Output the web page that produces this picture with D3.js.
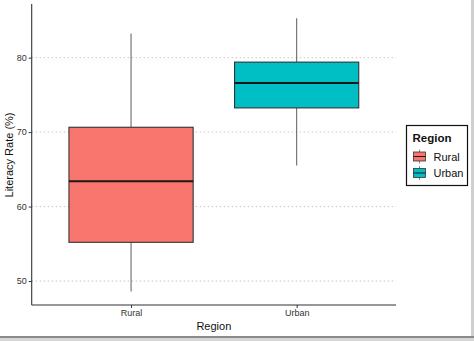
<!DOCTYPE html>
<html>
<head>
<meta charset="utf-8">
<script src="https://cdn.jsdelivr.net/npm/d3@7"></script>
<style>
  html, body { margin: 0; padding: 0; background: #fff; }
  svg { display: block; font-family: "Liberation Sans", Arial, sans-serif; }
</style>
</head>
<body>
<svg id="chart" width="474" height="341"></svg>
<script>
// Literacy rate summary by region (five-number summary per box)
const regions = ["Rural", "Urban"];
const whiskerLow  = [48.6, 65.5];
const q1          = [55.2, 73.25];
const medians     = [63.4, 76.6];
const q3          = [70.65, 79.4];
const whiskerHigh = [83.25, 85.3];
const fills = ["#F8766D", "#00BFC4"];
const yTicks = [50, 60, 70, 80];

const svg = d3.select("#chart");
const W = 474, H = 341;
const plotL = 31.7, plotR = 396, plotT = 5, plotB = 305;

// Discrete x scale with ggplot-style 0.6 expansion on both sides
const x = d3.scaleLinear().domain([0.4, 2.6]).range([plotL, plotR]);
const y = d3.scaleLinear().domain([46.78, 87.07]).range([plotB, plotT]);
const boxW = x(1.75) - x(1);   // box width of 0.75 category units

// Outer frame strips
svg.append("rect").attr("x", 471).attr("y", 0).attr("width", 3).attr("height", H).attr("fill", "#cfcfcf");
svg.append("rect").attr("x", 0).attr("y", 336).attr("width", W).attr("height", 2).attr("fill", "#8a8a8a");
svg.append("rect").attr("x", 0).attr("y", 338).attr("width", W).attr("height", 3).attr("fill", "#d6d6d6");

// Dotted horizontal gridlines
svg.append("g").selectAll("line").data(yTicks).join("line")
  .attr("x1", plotL).attr("x2", plotR)
  .attr("y1", d => y(d)).attr("y2", d => y(d))
  .attr("stroke", "#c4c4c4").attr("stroke-width", 1).attr("stroke-dasharray", "1.5,2.5");

// Boxes
const g = svg.append("g");
regions.forEach((r, i) => {
  const cx = x(i + 1);
  g.append("line").attr("x1", cx).attr("x2", cx)
    .attr("y1", y(whiskerHigh[i])).attr("y2", y(q3[i]))
    .attr("stroke", "#6b6b6b").attr("stroke-width", 1.1);
  g.append("line").attr("x1", cx).attr("x2", cx)
    .attr("y1", y(q1[i])).attr("y2", y(whiskerLow[i]))
    .attr("stroke", "#6b6b6b").attr("stroke-width", 1.1);
  g.append("rect").attr("x", cx - boxW / 2).attr("width", boxW)
    .attr("y", y(q3[i])).attr("height", y(q1[i]) - y(q3[i]))
    .attr("fill", fills[i]).attr("stroke", "#333").attr("stroke-width", 1.1);
  g.append("line").attr("x1", cx - boxW / 2).attr("x2", cx + boxW / 2)
    .attr("y1", y(medians[i])).attr("y2", y(medians[i]))
    .attr("stroke", "#1a1a1a").attr("stroke-width", 2);
});

// Axes
const yAxis = d3.axisLeft(y).tickValues(yTicks).tickSize(3).tickPadding(2);
const yg = svg.append("g").attr("transform", `translate(${plotL},0)`).call(yAxis);
yg.select(".domain").remove();
yg.selectAll("line").attr("stroke", "#333");
yg.selectAll("text").attr("fill", "#333").style("font-size", "9px");
svg.append("line").attr("x1", plotL).attr("x2", plotL).attr("y1", plotT - 1).attr("y2", plotB)
  .attr("stroke", "#333").attr("stroke-width", 1.1);

const xAxis = d3.axisBottom(x).tickValues([1, 2]).tickFormat(d => regions[d - 1]).tickSize(3).tickPadding(2);
const xg = svg.append("g").attr("transform", `translate(0,${plotB})`).call(xAxis);
xg.select(".domain").remove();
xg.selectAll("line").attr("stroke", "#333");
xg.selectAll("text").attr("fill", "#333").style("font-size", "9px");
svg.append("line").attr("x1", plotL).attr("x2", plotR).attr("y1", plotB).attr("y2", plotB)
  .attr("stroke", "#333").attr("stroke-width", 1.1);

// Axis titles
svg.append("text").attr("x", (plotL + plotR) / 2).attr("y", 330)
  .attr("text-anchor", "middle").style("font-size", "11px").attr("fill", "#111").text("Region");
svg.append("text").attr("transform", `translate(13,${(plotT + plotB) / 2}) rotate(-90)`)
  .attr("text-anchor", "middle").style("font-size", "11px").attr("fill", "#111").text("Literacy Rate (%)");

// Legend
const lg = svg.append("g").attr("transform", "translate(406.5,125.5)");
lg.append("rect").attr("width", 61).attr("height", 60).attr("fill", "#fff")
  .attr("stroke", "#111").attr("stroke-width", 1.2);
lg.append("text").attr("x", 6).attr("y", 16).style("font-size", "11.5px").style("font-weight", "bold")
  .attr("fill", "#111").text("Region");
regions.forEach((r, i) => {
  const ky = 24 + i * 16.5;
  const k = lg.append("g").attr("transform", `translate(6,${ky})`);
  k.append("line").attr("x1", 7).attr("x2", 7).attr("y1", 0).attr("y2", 14)
    .attr("stroke", "#6b6b6b").attr("stroke-width", 0.8);
  k.append("rect").attr("x", 1).attr("y", 2.5).attr("width", 12).attr("height", 9)
    .attr("fill", fills[i]).attr("stroke", "#333").attr("stroke-width", 0.8);
  k.append("line").attr("x1", 1).attr("x2", 13).attr("y1", 7).attr("y2", 7)
    .attr("stroke", "#1a1a1a").attr("stroke-width", 1);
  lg.append("text").attr("x", 27).attr("y", ky + 11).style("font-size", "11px")
    .attr("fill", "#111").text(r);
});
</script>
</body>
</html>
